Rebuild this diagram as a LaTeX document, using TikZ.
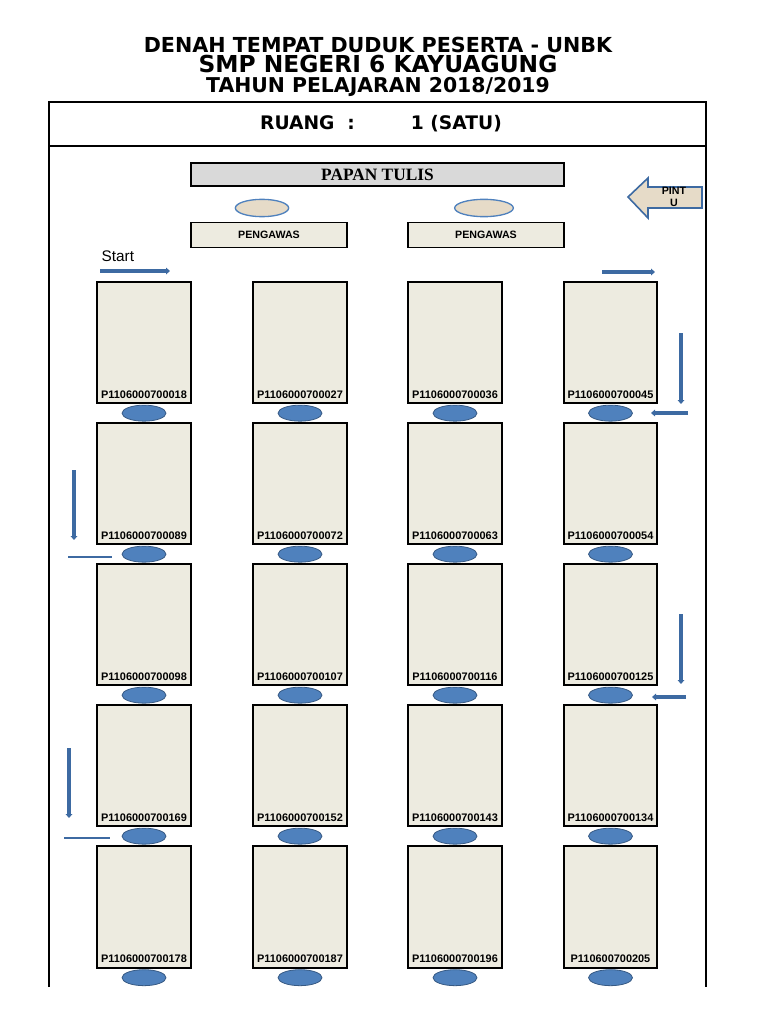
\documentclass[tikz,border=0pt]{standalone}
\usepackage{fontspec}
\setmainfont{DejaVu Sans}
\newfontfamily\lab{Liberation Sans}
\newfontfamily\serif{Liberation Serif}
\usetikzlibrary{arrows.meta,shapes.geometric}
\definecolor{meja}{HTML}{EDEBE0}
\definecolor{kursi}{HTML}{4F81BD}
\definecolor{panah}{HTML}{3D6AA2}
\tikzset{
  meja/.style={draw=black, line width=1.4pt, fill=meja, minimum width=70pt, minimum height=91pt, inner sep=0pt},
  kursi/.style={ellipse, draw=kursi!70!black, line width=0.6pt, fill=kursi, minimum width=33pt, minimum height=12pt, inner sep=0pt},
  pengawas/.style={draw=black, line width=1.2pt, fill=meja, minimum width=117pt, minimum height=19pt, font=\lab\bfseries\fontsize{8}{8}\selectfont},
  kursiP/.style={ellipse, draw=kursi, line width=1pt, fill=meja!85!brown, minimum width=40pt, minimum height=13pt, inner sep=0pt},
  label/.style={font=\lab\bfseries\fontsize{8.2}{9}\selectfont, inner sep=0pt},
  jalur/.style={draw=panah, line width=3pt, -{Triangle[length=3pt,width=5pt]}},
  garis/.style={draw=panah, line width=2pt},
}
\begin{document}
\begin{tikzpicture}[x=0.75pt, y=-0.75pt]
\useasboundingbox (0,0) rectangle (768,1024);
% judul
\node[font=\bfseries\fontsize{15.5}{16}\selectfont] (judul) at (378,45) {DENAH TEMPAT DUDUK PESERTA - UNBK};
\node[font=\bfseries\fontsize{17.5}{18}\selectfont] (sekolah) at (378,64) {SMP NEGERI 6 KAYUAGUNG};
\node[font=\bfseries\fontsize{15.3}{16}\selectfont] (tahun) at (378,87) {TAHUN PELAJARAN 2018/2019};
% bingkai
\draw[line width=1.5pt] (49,987) -- (49,102) -- (706,102) -- (706,987);
\draw[line width=1.5pt] (49,146) -- (706,146);
\node[font=\bfseries\fontsize{14}{14}\selectfont] (ruang) at (381,124) {RUANG \ :\qquad\quad 1 (SATU)};
% papan tulis
\node[draw=black, line width=1.4pt, fill=gray!30, minimum width=280pt, minimum height=17pt, font=\serif\bfseries\fontsize{13}{13}\selectfont] (papan) at (377.5,174.5) {PAPAN TULIS};
\node[kursiP] (kp1) at (262,208) {};
\node[kursiP, minimum width=44pt] (kp2) at (484,208) {};
\node[pengawas] (p1) at (269,235) {PENGAWAS};
\node[pengawas] (p2) at (486,235) {PENGAWAS};
% pintu
\draw[draw=panah, line width=1.2pt, fill=meja!85!brown] (628,197) -- (648,178) -- (648,187) -- (702,187) -- (702,208) -- (648,208) -- (648,218) -- cycle;
\node[font=\lab\bfseries\fontsize{8}{8.5}\selectfont, align=center] (tpintu) at (674,197) {PINT\\U};
% meja dan kursi
\foreach \r/\y/\a/\b/\c in {1/342.5/018/027/036, 2/483.5/089/072/063, 3/624.5/098/107/116, 4/765.5/169/152/143, 5/907/178/187/196}{
  \foreach \k/\x/\n in {1/144/P1106000700\a, 2/300/P1106000700\b, 3/455/P1106000700\c}{
    \node[meja] (m\r\k) at (\x,\y) {};
    \node[label, anchor=south] at ([yshift=4pt]m\r\k.south) {\n};
    \node[kursi, anchor=north] (k\r\k) at ([yshift=-0.5pt]m\r\k.south) {};
  }
}
\foreach \r/\y/\n in {1/342.5/P1106000700045, 2/483.5/P1106000700054, 3/624.5/P1106000700125, 4/765.5/P1106000700134, 5/907/P110600700205}{
  \node[meja] (m\r4) at (610.5,\y) {};
  \node[label, anchor=south] at ([yshift=4pt]m\r4.south) {\n};
  \node[kursi, anchor=north] (k\r4) at ([yshift=-0.5pt]m\r4.south) {};
}
% jalur
\node[font=\lab\fontsize{11.5}{12}\selectfont, anchor=west] (start) at (97,256) {Start};
\coordinate (s1) at (100,271); \coordinate (s2) at (170,271);
\draw[jalur] (s1) -- (s2);
\coordinate (a1) at (602,272); \coordinate (a2) at (655,272);
\draw[jalur, line width=2.5pt] (a1) -- (a2);
\foreach \n/\x/\ya/\yb in {b/681/333/404, c/74/470/540, d/681/614/684, e/69/748/818}{
  \coordinate (\n1) at (\x,\ya); \coordinate (\n2) at (\x,\yb);
  \draw[jalur] (\n1) -- (\n2);
}
\coordinate (f1) at (688,413); \coordinate (f2) at (651,413);
\draw[jalur, line width=2.5pt] (f1) -- (f2);
\coordinate (g1) at (686,697); \coordinate (g2) at (652,697);
\draw[jalur, line width=2.5pt] (g1) -- (g2);
\coordinate (h1) at (68,557); \coordinate (h2) at (112,557);
\draw[garis] (h1) -- (h2);
\coordinate (i1) at (64,838); \coordinate (i2) at (110,838);
\draw[garis] (i1) -- (i2);
\end{tikzpicture}
\end{document}
